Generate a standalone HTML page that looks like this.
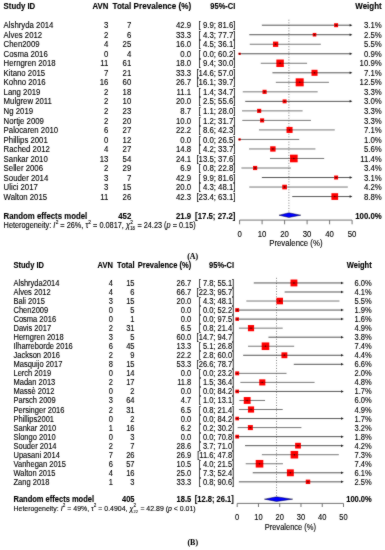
<!DOCTYPE html>
<html><head><meta charset="utf-8"><style>
html,body{margin:0;padding:0;background:#fff;}
svg{display:block;}
text{font-family:"Liberation Sans",Arial,sans-serif;fill:#000;stroke:#000;stroke-width:0.12px;}

</style></head><body>
<svg width="385" height="550" viewBox="0 0 385 550">
<defs><filter id="bl" x="0" y="0" width="100%" height="100%"><feConvolveMatrix order="3" kernelMatrix="1 2 1 2 28 2 1 2 1" edgeMode="none"/></filter></defs>
<rect width="385" height="550" fill="#fff"/>
<g filter="url(#bl)">
<g font-size="8.67">
<text transform="matrix(0.9,0,0,1,3.6,9.4)" font-weight="bold">Study ID</text>
<text transform="matrix(0.9,0,0,1,108.4,9.4)" font-weight="bold" text-anchor="end">AVN</text>
<text transform="matrix(0.936,0,0,1,131.3,9.4)" font-weight="bold" text-anchor="end">Total</text>
<text transform="matrix(0.936,0,0,1,191.2,9.4)" font-weight="bold" text-anchor="end">Prevalence (%)</text>
<text transform="matrix(0.864,0,0,1,235.3,9.4)" font-weight="bold" text-anchor="end">95%-CI</text>
<text transform="matrix(0.918,0,0,1,381.7,9.4)" font-weight="bold" text-anchor="end">Weight</text>
<text transform="matrix(0.9,0,0,1,3.6,28.3)" >Alshryda 2014</text>
<text transform="matrix(0.9,0,0,1,108.4,28.3)" text-anchor="end">3</text>
<text transform="matrix(0.9,0,0,1,131.3,28.3)" text-anchor="end">7</text>
<text transform="matrix(0.9,0,0,1,191.2,28.3)" text-anchor="end">42.9</text>
<text transform="matrix(0.9,0,0,1,235.4,28.3)" text-anchor="end" xml:space="preserve">[ 9.9; 81.6]</text>
<text transform="matrix(0.9,0,0,1,381.7,28.3)" text-anchor="end">3.1%</text>
<text transform="matrix(0.9,0,0,1,3.6,37.82)" >Alves 2012</text>
<text transform="matrix(0.9,0,0,1,108.4,37.82)" text-anchor="end">2</text>
<text transform="matrix(0.9,0,0,1,131.3,37.82)" text-anchor="end">6</text>
<text transform="matrix(0.9,0,0,1,191.2,37.82)" text-anchor="end">33.3</text>
<text transform="matrix(0.9,0,0,1,235.4,37.82)" text-anchor="end" xml:space="preserve">[ 4.3; 77.7]</text>
<text transform="matrix(0.9,0,0,1,381.7,37.82)" text-anchor="end">2.5%</text>
<text transform="matrix(0.9,0,0,1,3.6,47.34)" >Chen2009</text>
<text transform="matrix(0.9,0,0,1,108.4,47.34)" text-anchor="end">4</text>
<text transform="matrix(0.9,0,0,1,131.3,47.34)" text-anchor="end">25</text>
<text transform="matrix(0.9,0,0,1,191.2,47.34)" text-anchor="end">16.0</text>
<text transform="matrix(0.9,0,0,1,235.4,47.34)" text-anchor="end" xml:space="preserve">[ 4.5; 36.1]</text>
<text transform="matrix(0.9,0,0,1,381.7,47.34)" text-anchor="end">5.5%</text>
<text transform="matrix(0.9,0,0,1,3.6,56.86)" >Cosma 2016</text>
<text transform="matrix(0.9,0,0,1,108.4,56.86)" text-anchor="end">0</text>
<text transform="matrix(0.9,0,0,1,131.3,56.86)" text-anchor="end">4</text>
<text transform="matrix(0.9,0,0,1,191.2,56.86)" text-anchor="end">0.0</text>
<text transform="matrix(0.9,0,0,1,235.4,56.86)" text-anchor="end" xml:space="preserve">[ 0.0; 60.2]</text>
<text transform="matrix(0.9,0,0,1,381.7,56.86)" text-anchor="end">0.9%</text>
<text transform="matrix(0.9,0,0,1,3.6,66.38)" >Herngren 2018</text>
<text transform="matrix(0.9,0,0,1,108.4,66.38)" text-anchor="end">11</text>
<text transform="matrix(0.9,0,0,1,131.3,66.38)" text-anchor="end">61</text>
<text transform="matrix(0.9,0,0,1,191.2,66.38)" text-anchor="end">18.0</text>
<text transform="matrix(0.9,0,0,1,235.4,66.38)" text-anchor="end" xml:space="preserve">[ 9.4; 30.0]</text>
<text transform="matrix(0.9,0,0,1,381.7,66.38)" text-anchor="end">10.9%</text>
<text transform="matrix(0.9,0,0,1,3.6,75.9)" >Kitano 2015</text>
<text transform="matrix(0.9,0,0,1,108.4,75.9)" text-anchor="end">7</text>
<text transform="matrix(0.9,0,0,1,131.3,75.9)" text-anchor="end">21</text>
<text transform="matrix(0.9,0,0,1,191.2,75.9)" text-anchor="end">33.3</text>
<text transform="matrix(0.9,0,0,1,235.4,75.9)" text-anchor="end" xml:space="preserve">[14.6; 57.0]</text>
<text transform="matrix(0.9,0,0,1,381.7,75.9)" text-anchor="end">7.1%</text>
<text transform="matrix(0.9,0,0,1,3.6,85.42)" >Kohno 2016</text>
<text transform="matrix(0.9,0,0,1,108.4,85.42)" text-anchor="end">16</text>
<text transform="matrix(0.9,0,0,1,131.3,85.42)" text-anchor="end">60</text>
<text transform="matrix(0.9,0,0,1,191.2,85.42)" text-anchor="end">26.7</text>
<text transform="matrix(0.9,0,0,1,235.4,85.42)" text-anchor="end" xml:space="preserve">[16.1; 39.7]</text>
<text transform="matrix(0.9,0,0,1,381.7,85.42)" text-anchor="end">12.5%</text>
<text transform="matrix(0.9,0,0,1,3.6,94.94)" >Lang 2019</text>
<text transform="matrix(0.9,0,0,1,108.4,94.94)" text-anchor="end">2</text>
<text transform="matrix(0.9,0,0,1,131.3,94.94)" text-anchor="end">18</text>
<text transform="matrix(0.9,0,0,1,191.2,94.94)" text-anchor="end">11.1</text>
<text transform="matrix(0.9,0,0,1,235.4,94.94)" text-anchor="end" xml:space="preserve">[ 1.4; 34.7]</text>
<text transform="matrix(0.9,0,0,1,381.7,94.94)" text-anchor="end">3.3%</text>
<text transform="matrix(0.9,0,0,1,3.6,104.46)" >Mulgrew 2011</text>
<text transform="matrix(0.9,0,0,1,108.4,104.46)" text-anchor="end">2</text>
<text transform="matrix(0.9,0,0,1,131.3,104.46)" text-anchor="end">10</text>
<text transform="matrix(0.9,0,0,1,191.2,104.46)" text-anchor="end">20.0</text>
<text transform="matrix(0.9,0,0,1,235.4,104.46)" text-anchor="end" xml:space="preserve">[ 2.5; 55.6]</text>
<text transform="matrix(0.9,0,0,1,381.7,104.46)" text-anchor="end">3.0%</text>
<text transform="matrix(0.9,0,0,1,3.6,113.98)" >Ng 2019</text>
<text transform="matrix(0.9,0,0,1,108.4,113.98)" text-anchor="end">2</text>
<text transform="matrix(0.9,0,0,1,131.3,113.98)" text-anchor="end">23</text>
<text transform="matrix(0.9,0,0,1,191.2,113.98)" text-anchor="end">8.7</text>
<text transform="matrix(0.9,0,0,1,235.4,113.98)" text-anchor="end" xml:space="preserve">[ 1.1; 28.0]</text>
<text transform="matrix(0.9,0,0,1,381.7,113.98)" text-anchor="end">3.3%</text>
<text transform="matrix(0.9,0,0,1,3.6,123.5)" >Nortje 2009</text>
<text transform="matrix(0.9,0,0,1,108.4,123.5)" text-anchor="end">2</text>
<text transform="matrix(0.9,0,0,1,131.3,123.5)" text-anchor="end">20</text>
<text transform="matrix(0.9,0,0,1,191.2,123.5)" text-anchor="end">10.0</text>
<text transform="matrix(0.9,0,0,1,235.4,123.5)" text-anchor="end" xml:space="preserve">[ 1.2; 31.7]</text>
<text transform="matrix(0.9,0,0,1,381.7,123.5)" text-anchor="end">3.3%</text>
<text transform="matrix(0.9,0,0,1,3.6,133.02)" >Palocaren 2010</text>
<text transform="matrix(0.9,0,0,1,108.4,133.02)" text-anchor="end">6</text>
<text transform="matrix(0.9,0,0,1,131.3,133.02)" text-anchor="end">27</text>
<text transform="matrix(0.9,0,0,1,191.2,133.02)" text-anchor="end">22.2</text>
<text transform="matrix(0.9,0,0,1,235.4,133.02)" text-anchor="end" xml:space="preserve">[ 8.6; 42.3]</text>
<text transform="matrix(0.9,0,0,1,381.7,133.02)" text-anchor="end">7.1%</text>
<text transform="matrix(0.9,0,0,1,3.6,142.54)" >Phillips 2001</text>
<text transform="matrix(0.9,0,0,1,108.4,142.54)" text-anchor="end">0</text>
<text transform="matrix(0.9,0,0,1,131.3,142.54)" text-anchor="end">12</text>
<text transform="matrix(0.9,0,0,1,191.2,142.54)" text-anchor="end">0.0</text>
<text transform="matrix(0.9,0,0,1,235.4,142.54)" text-anchor="end" xml:space="preserve">[ 0.0; 26.5]</text>
<text transform="matrix(0.9,0,0,1,381.7,142.54)" text-anchor="end">1.0%</text>
<text transform="matrix(0.9,0,0,1,3.6,152.06)" >Rached 2012</text>
<text transform="matrix(0.9,0,0,1,108.4,152.06)" text-anchor="end">4</text>
<text transform="matrix(0.9,0,0,1,131.3,152.06)" text-anchor="end">27</text>
<text transform="matrix(0.9,0,0,1,191.2,152.06)" text-anchor="end">14.8</text>
<text transform="matrix(0.9,0,0,1,235.4,152.06)" text-anchor="end" xml:space="preserve">[ 4.2; 33.7]</text>
<text transform="matrix(0.9,0,0,1,381.7,152.06)" text-anchor="end">5.6%</text>
<text transform="matrix(0.9,0,0,1,3.6,161.58)" >Sankar 2010</text>
<text transform="matrix(0.9,0,0,1,108.4,161.58)" text-anchor="end">13</text>
<text transform="matrix(0.9,0,0,1,131.3,161.58)" text-anchor="end">54</text>
<text transform="matrix(0.9,0,0,1,191.2,161.58)" text-anchor="end">24.1</text>
<text transform="matrix(0.9,0,0,1,235.4,161.58)" text-anchor="end" xml:space="preserve">[13.5; 37.6]</text>
<text transform="matrix(0.9,0,0,1,381.7,161.58)" text-anchor="end">11.4%</text>
<text transform="matrix(0.9,0,0,1,3.6,171.1)" >Seller 2006</text>
<text transform="matrix(0.9,0,0,1,108.4,171.1)" text-anchor="end">2</text>
<text transform="matrix(0.9,0,0,1,131.3,171.1)" text-anchor="end">29</text>
<text transform="matrix(0.9,0,0,1,191.2,171.1)" text-anchor="end">6.9</text>
<text transform="matrix(0.9,0,0,1,235.4,171.1)" text-anchor="end" xml:space="preserve">[ 0.8; 22.8]</text>
<text transform="matrix(0.9,0,0,1,381.7,171.1)" text-anchor="end">3.4%</text>
<text transform="matrix(0.9,0,0,1,3.6,180.62)" >Souder 2014</text>
<text transform="matrix(0.9,0,0,1,108.4,180.62)" text-anchor="end">3</text>
<text transform="matrix(0.9,0,0,1,131.3,180.62)" text-anchor="end">7</text>
<text transform="matrix(0.9,0,0,1,191.2,180.62)" text-anchor="end">42.9</text>
<text transform="matrix(0.9,0,0,1,235.4,180.62)" text-anchor="end" xml:space="preserve">[ 9.9; 81.6]</text>
<text transform="matrix(0.9,0,0,1,381.7,180.62)" text-anchor="end">3.1%</text>
<text transform="matrix(0.9,0,0,1,3.6,190.14)" >Ulici 2017</text>
<text transform="matrix(0.9,0,0,1,108.4,190.14)" text-anchor="end">3</text>
<text transform="matrix(0.9,0,0,1,131.3,190.14)" text-anchor="end">15</text>
<text transform="matrix(0.9,0,0,1,191.2,190.14)" text-anchor="end">20.0</text>
<text transform="matrix(0.9,0,0,1,235.4,190.14)" text-anchor="end" xml:space="preserve">[ 4.3; 48.1]</text>
<text transform="matrix(0.9,0,0,1,381.7,190.14)" text-anchor="end">4.2%</text>
<text transform="matrix(0.9,0,0,1,3.6,199.66)" >Walton 2015</text>
<text transform="matrix(0.9,0,0,1,108.4,199.66)" text-anchor="end">11</text>
<text transform="matrix(0.9,0,0,1,131.3,199.66)" text-anchor="end">26</text>
<text transform="matrix(0.9,0,0,1,191.2,199.66)" text-anchor="end">42.3</text>
<text transform="matrix(0.9,0,0,1,235.4,199.66)" text-anchor="end" xml:space="preserve">[23.4; 63.1]</text>
<text transform="matrix(0.9,0,0,1,381.7,199.66)" text-anchor="end">8.8%</text>
<text transform="matrix(0.9,0,0,1,3.6,218.66)" font-weight="bold">Random effects model</text>
<text transform="matrix(0.9,0,0,1,131.3,218.66)" font-weight="bold" text-anchor="end">452</text>
<text transform="matrix(0.9,0,0,1,191.2,218.66)" font-weight="bold" text-anchor="end">21.9</text>
<text transform="matrix(0.9,0,0,1,235.4,218.66)" font-weight="bold" text-anchor="end">[17.5; 27.2]</text>
<text transform="matrix(0.9,0,0,1,381.7,218.66)" font-weight="bold" text-anchor="end">100.0%</text>
<text transform="matrix(0.9,0,0,1,3.6,227.91)" font-size="8.15">Heterogeneity: <tspan font-style="italic">I</tspan><tspan dx="0.3" dy="-3.42" font-size="5.38">2</tspan><tspan dy="3.42"> = 26%, τ</tspan><tspan dy="-3.42" font-size="5.38">2</tspan><tspan dy="3.42"> = 0.0817, </tspan><tspan font-style="italic">χ</tspan><tspan dx="0.4" dy="-3.42" font-size="5.38">2</tspan><tspan dx="-2.99" dy="5.7" font-size="4.56">18</tspan><tspan dx="0.6" dy="-2.28"> = 24.23 (</tspan><tspan font-style="italic">p</tspan><tspan> = 0.15)</tspan></text>
<path d="M278.98 215.16L288.88 212.81L300.8 215.16L288.88 217.51Z" fill="#00f" stroke="#002" stroke-width="0.45"/>
<line x1="288.88" y1="19.73" x2="288.88" y2="212.81" stroke="#666" stroke-width="0.8" stroke-dasharray="1 1.65"/>
<g stroke="#6a6a6a" stroke-width="0.9"><line x1="249.72" y1="44.24" x2="320.82" y2="44.24"/><line x1="260.75" y1="63.28" x2="307.1" y2="63.28"/><line x1="275.82" y1="82.32" x2="328.93" y2="82.32"/><line x1="242.75" y1="91.84" x2="317.68" y2="91.84"/><line x1="242.07" y1="110.88" x2="302.6" y2="110.88"/><line x1="242.3" y1="120.4" x2="310.93" y2="120.4"/><line x1="258.95" y1="129.92" x2="334.77" y2="129.92"/><line x1="239.6" y1="139.44" x2="299.23" y2="139.44"/><line x1="249.05" y1="148.96" x2="315.43" y2="148.96"/><line x1="269.98" y1="158.48" x2="324.2" y2="158.48"/><line x1="241.4" y1="168" x2="290.9" y2="168"/><line x1="249.28" y1="187.04" x2="347.82" y2="187.04"/></g>
<g stroke="#444" stroke-width="0.9"><line x1="261.88" y1="25.2" x2="350.6" y2="25.2"/><line x1="249.28" y1="34.72" x2="350.6" y2="34.72"/><line x1="239.6" y1="53.76" x2="350.6" y2="53.76"/><line x1="272.45" y1="72.8" x2="350.6" y2="72.8"/><line x1="245.22" y1="101.36" x2="350.6" y2="101.36"/><line x1="261.88" y1="177.52" x2="350.6" y2="177.52"/><line x1="292.25" y1="196.56" x2="350.6" y2="196.56"/></g>
<path d="M352.4 25.2L349.6 23.95L349.6 26.45Z" fill="#222"/>
<rect x="334.13" y="23.21" width="3.98" height="3.98" fill="#f00"/>
<line x1="334.13" y1="25.2" x2="338.12" y2="25.2" stroke="#a00" stroke-width="0.8"/>
<circle cx="336.12" cy="25.2" r="0.7" fill="#300"/>
<path d="M352.4 34.72L349.6 33.47L349.6 35.97Z" fill="#222"/>
<rect x="312.74" y="32.93" width="3.58" height="3.58" fill="#f00"/>
<line x1="312.74" y1="34.72" x2="316.31" y2="34.72" stroke="#a00" stroke-width="0.8"/>
<circle cx="314.52" cy="34.72" r="0.7" fill="#300"/>
<rect x="272.95" y="41.59" width="5.31" height="5.31" fill="#f00"/>
<line x1="272.95" y1="44.24" x2="278.25" y2="44.24" stroke="#a00" stroke-width="0.8"/>
<circle cx="275.6" cy="44.24" r="0.7" fill="#300"/>
<path d="M352.4 53.76L349.6 52.51L349.6 55.01Z" fill="#222"/>
<rect x="238.53" y="52.69" width="2.15" height="2.15" fill="#f00"/>
<line x1="238.53" y1="53.76" x2="240.67" y2="53.76" stroke="#a00" stroke-width="0.8"/>
<circle cx="239.6" cy="53.76" r="0.7" fill="#300"/>
<rect x="276.36" y="59.54" width="7.47" height="7.47" fill="#f00"/>
<line x1="276.36" y1="63.28" x2="283.84" y2="63.28" stroke="#a00" stroke-width="0.8"/>
<circle cx="280.1" cy="63.28" r="0.7" fill="#300"/>
<path d="M352.4 72.8L349.6 71.55L349.6 74.05Z" fill="#222"/>
<rect x="311.51" y="69.79" width="6.03" height="6.03" fill="#f00"/>
<line x1="311.51" y1="72.8" x2="317.54" y2="72.8" stroke="#a00" stroke-width="0.8"/>
<circle cx="314.52" cy="72.8" r="0.7" fill="#300"/>
<rect x="295.68" y="78.32" width="8" height="8" fill="#f00"/>
<line x1="295.68" y1="82.32" x2="303.68" y2="82.32" stroke="#a00" stroke-width="0.8"/>
<circle cx="299.68" cy="82.32" r="0.7" fill="#300"/>
<rect x="262.52" y="89.78" width="4.11" height="4.11" fill="#f00"/>
<line x1="262.52" y1="91.84" x2="266.63" y2="91.84" stroke="#a00" stroke-width="0.8"/>
<circle cx="264.57" cy="91.84" r="0.7" fill="#300"/>
<path d="M352.4 101.36L349.6 100.11L349.6 102.61Z" fill="#222"/>
<rect x="282.64" y="99.4" width="3.92" height="3.92" fill="#f00"/>
<line x1="282.64" y1="101.36" x2="286.56" y2="101.36" stroke="#a00" stroke-width="0.8"/>
<circle cx="284.6" cy="101.36" r="0.7" fill="#300"/>
<rect x="257.12" y="108.82" width="4.11" height="4.11" fill="#f00"/>
<line x1="257.12" y1="110.88" x2="261.23" y2="110.88" stroke="#a00" stroke-width="0.8"/>
<circle cx="259.18" cy="110.88" r="0.7" fill="#300"/>
<rect x="260.04" y="118.34" width="4.11" height="4.11" fill="#f00"/>
<line x1="260.04" y1="120.4" x2="264.16" y2="120.4" stroke="#a00" stroke-width="0.8"/>
<circle cx="262.1" cy="120.4" r="0.7" fill="#300"/>
<rect x="286.54" y="126.91" width="6.03" height="6.03" fill="#f00"/>
<line x1="286.54" y1="129.92" x2="292.56" y2="129.92" stroke="#a00" stroke-width="0.8"/>
<circle cx="289.55" cy="129.92" r="0.7" fill="#300"/>
<rect x="238.47" y="138.31" width="2.26" height="2.26" fill="#f00"/>
<line x1="238.47" y1="139.44" x2="240.73" y2="139.44" stroke="#a00" stroke-width="0.8"/>
<circle cx="239.6" cy="139.44" r="0.7" fill="#300"/>
<rect x="270.22" y="146.28" width="5.35" height="5.35" fill="#f00"/>
<line x1="270.22" y1="148.96" x2="275.58" y2="148.96" stroke="#a00" stroke-width="0.8"/>
<circle cx="272.9" cy="148.96" r="0.7" fill="#300"/>
<rect x="290.01" y="154.66" width="7.64" height="7.64" fill="#f00"/>
<line x1="290.01" y1="158.48" x2="297.64" y2="158.48" stroke="#a00" stroke-width="0.8"/>
<circle cx="293.82" cy="158.48" r="0.7" fill="#300"/>
<rect x="253.04" y="165.91" width="4.17" height="4.17" fill="#f00"/>
<line x1="253.04" y1="168" x2="257.21" y2="168" stroke="#a00" stroke-width="0.8"/>
<circle cx="255.12" cy="168" r="0.7" fill="#300"/>
<path d="M352.4 177.52L349.6 176.27L349.6 178.77Z" fill="#222"/>
<rect x="334.13" y="175.53" width="3.98" height="3.98" fill="#f00"/>
<line x1="334.13" y1="177.52" x2="338.12" y2="177.52" stroke="#a00" stroke-width="0.8"/>
<circle cx="336.12" cy="177.52" r="0.7" fill="#300"/>
<rect x="282.28" y="184.72" width="4.64" height="4.64" fill="#f00"/>
<line x1="282.28" y1="187.04" x2="286.92" y2="187.04" stroke="#a00" stroke-width="0.8"/>
<circle cx="284.6" cy="187.04" r="0.7" fill="#300"/>
<path d="M352.4 196.56L349.6 195.31L349.6 197.81Z" fill="#222"/>
<rect x="331.42" y="193.2" width="6.71" height="6.71" fill="#f00"/>
<line x1="331.42" y1="196.56" x2="338.13" y2="196.56" stroke="#a00" stroke-width="0.8"/>
<circle cx="334.77" cy="196.56" r="0.7" fill="#300"/>
<g stroke="#666" stroke-width="0.9"><line x1="239.6" y1="220.1" x2="352.1" y2="220.1"/><line x1="239.6" y1="220.1" x2="239.6" y2="224.3"/><line x1="262.1" y1="220.1" x2="262.1" y2="224.3"/><line x1="284.6" y1="220.1" x2="284.6" y2="224.3"/><line x1="307.1" y1="220.1" x2="307.1" y2="224.3"/><line x1="329.6" y1="220.1" x2="329.6" y2="224.3"/><line x1="352.1" y1="220.1" x2="352.1" y2="224.3"/></g>
<text transform="matrix(0.9,0,0,1,239.6,237.4)" text-anchor="middle">0</text>
<text transform="matrix(0.9,0,0,1,262.1,237.4)" text-anchor="middle">10</text>
<text transform="matrix(0.9,0,0,1,284.6,237.4)" text-anchor="middle">20</text>
<text transform="matrix(0.9,0,0,1,307.1,237.4)" text-anchor="middle">30</text>
<text transform="matrix(0.9,0,0,1,329.6,237.4)" text-anchor="middle">40</text>
<text transform="matrix(0.9,0,0,1,352.1,237.4)" text-anchor="middle">50</text>
<text transform="matrix(0.9,0,0,1,295.85,246.1)" text-anchor="middle">Prevalence (%)</text>
<text transform="matrix(1.0,0,0,1,192.7,258.8)" text-anchor="middle" style="font-family:'Liberation Serif',serif;stroke-width:0.08px" font-weight="bold" font-size="7.9">(A)</text>
</g>
<g font-size="8.36">
<text transform="matrix(0.9,0,0,1,13.5,267.8)" font-weight="bold">Study ID</text>
<text transform="matrix(0.9,0,0,1,112.9,267.8)" font-weight="bold" text-anchor="end">AVN</text>
<text transform="matrix(0.9,0,0,1,134.5,267.8)" font-weight="bold" text-anchor="end">Total</text>
<text transform="matrix(0.9,0,0,1,191.2,267.8)" font-weight="bold" text-anchor="end">Prevalence (%)</text>
<text transform="matrix(0.9,0,0,1,234.1,267.8)" font-weight="bold" text-anchor="end">95%-CI</text>
<text transform="matrix(0.9,0,0,1,371.7,267.8)" font-weight="bold" text-anchor="end">Weight</text>
<text transform="matrix(0.9,0,0,1,13.5,285.95)" >Alshryda2014</text>
<text transform="matrix(0.9,0,0,1,112.9,285.95)" text-anchor="end">4</text>
<text transform="matrix(0.9,0,0,1,134.5,285.95)" text-anchor="end">15</text>
<text transform="matrix(0.9,0,0,1,191.2,285.95)" text-anchor="end">26.7</text>
<text transform="matrix(0.9,0,0,1,234.2,285.95)" text-anchor="end" xml:space="preserve">[ 7.8; 55.1]</text>
<text transform="matrix(0.9,0,0,1,371.7,285.95)" text-anchor="end">6.0%</text>
<text transform="matrix(0.9,0,0,1,13.5,294.99)" >Alves 2012</text>
<text transform="matrix(0.9,0,0,1,112.9,294.99)" text-anchor="end">4</text>
<text transform="matrix(0.9,0,0,1,134.5,294.99)" text-anchor="end">6</text>
<text transform="matrix(0.9,0,0,1,191.2,294.99)" text-anchor="end">66.7</text>
<text transform="matrix(0.9,0,0,1,234.2,294.99)" text-anchor="end" xml:space="preserve">[22.3; 95.7]</text>
<text transform="matrix(0.9,0,0,1,371.7,294.99)" text-anchor="end">4.1%</text>
<text transform="matrix(0.9,0,0,1,13.5,304.03)" >Bali 2015</text>
<text transform="matrix(0.9,0,0,1,112.9,304.03)" text-anchor="end">3</text>
<text transform="matrix(0.9,0,0,1,134.5,304.03)" text-anchor="end">15</text>
<text transform="matrix(0.9,0,0,1,191.2,304.03)" text-anchor="end">20.0</text>
<text transform="matrix(0.9,0,0,1,234.2,304.03)" text-anchor="end" xml:space="preserve">[ 4.3; 48.1]</text>
<text transform="matrix(0.9,0,0,1,371.7,304.03)" text-anchor="end">5.5%</text>
<text transform="matrix(0.9,0,0,1,13.5,313.07)" >Chen2009</text>
<text transform="matrix(0.9,0,0,1,112.9,313.07)" text-anchor="end">0</text>
<text transform="matrix(0.9,0,0,1,134.5,313.07)" text-anchor="end">5</text>
<text transform="matrix(0.9,0,0,1,191.2,313.07)" text-anchor="end">0.0</text>
<text transform="matrix(0.9,0,0,1,234.2,313.07)" text-anchor="end" xml:space="preserve">[ 0.0; 52.2]</text>
<text transform="matrix(0.9,0,0,1,371.7,313.07)" text-anchor="end">1.9%</text>
<text transform="matrix(0.9,0,0,1,13.5,322.11)" >Cosma 2016</text>
<text transform="matrix(0.9,0,0,1,112.9,322.11)" text-anchor="end">0</text>
<text transform="matrix(0.9,0,0,1,134.5,322.11)" text-anchor="end">1</text>
<text transform="matrix(0.9,0,0,1,191.2,322.11)" text-anchor="end">0.0</text>
<text transform="matrix(0.9,0,0,1,234.2,322.11)" text-anchor="end" xml:space="preserve">[ 0.0; 97.5]</text>
<text transform="matrix(0.9,0,0,1,371.7,322.11)" text-anchor="end">1.6%</text>
<text transform="matrix(0.9,0,0,1,13.5,331.15)" >Davis 2017</text>
<text transform="matrix(0.9,0,0,1,112.9,331.15)" text-anchor="end">2</text>
<text transform="matrix(0.9,0,0,1,134.5,331.15)" text-anchor="end">31</text>
<text transform="matrix(0.9,0,0,1,191.2,331.15)" text-anchor="end">6.5</text>
<text transform="matrix(0.9,0,0,1,234.2,331.15)" text-anchor="end" xml:space="preserve">[ 0.8; 21.4]</text>
<text transform="matrix(0.9,0,0,1,371.7,331.15)" text-anchor="end">4.9%</text>
<text transform="matrix(0.9,0,0,1,13.5,340.19)" >Herngren 2018</text>
<text transform="matrix(0.9,0,0,1,112.9,340.19)" text-anchor="end">3</text>
<text transform="matrix(0.9,0,0,1,134.5,340.19)" text-anchor="end">5</text>
<text transform="matrix(0.9,0,0,1,191.2,340.19)" text-anchor="end">60.0</text>
<text transform="matrix(0.9,0,0,1,234.2,340.19)" text-anchor="end" xml:space="preserve">[14.7; 94.7]</text>
<text transform="matrix(0.9,0,0,1,371.7,340.19)" text-anchor="end">3.8%</text>
<text transform="matrix(0.9,0,0,1,13.5,349.23)" >Ilharreborde 2016</text>
<text transform="matrix(0.9,0,0,1,112.9,349.23)" text-anchor="end">6</text>
<text transform="matrix(0.9,0,0,1,134.5,349.23)" text-anchor="end">45</text>
<text transform="matrix(0.9,0,0,1,191.2,349.23)" text-anchor="end">13.3</text>
<text transform="matrix(0.9,0,0,1,234.2,349.23)" text-anchor="end" xml:space="preserve">[ 5.1; 26.8]</text>
<text transform="matrix(0.9,0,0,1,371.7,349.23)" text-anchor="end">7.4%</text>
<text transform="matrix(0.9,0,0,1,13.5,358.27)" >Jackson 2016</text>
<text transform="matrix(0.9,0,0,1,112.9,358.27)" text-anchor="end">2</text>
<text transform="matrix(0.9,0,0,1,134.5,358.27)" text-anchor="end">9</text>
<text transform="matrix(0.9,0,0,1,191.2,358.27)" text-anchor="end">22.2</text>
<text transform="matrix(0.9,0,0,1,234.2,358.27)" text-anchor="end" xml:space="preserve">[ 2.8; 60.0]</text>
<text transform="matrix(0.9,0,0,1,371.7,358.27)" text-anchor="end">4.4%</text>
<text transform="matrix(0.9,0,0,1,13.5,367.31)" >Masquijo 2017</text>
<text transform="matrix(0.9,0,0,1,112.9,367.31)" text-anchor="end">8</text>
<text transform="matrix(0.9,0,0,1,134.5,367.31)" text-anchor="end">15</text>
<text transform="matrix(0.9,0,0,1,191.2,367.31)" text-anchor="end">53.3</text>
<text transform="matrix(0.9,0,0,1,234.2,367.31)" text-anchor="end" xml:space="preserve">[26.6; 78.7]</text>
<text transform="matrix(0.9,0,0,1,371.7,367.31)" text-anchor="end">6.6%</text>
<text transform="matrix(0.9,0,0,1,13.5,376.35)" >Lerch 2019</text>
<text transform="matrix(0.9,0,0,1,112.9,376.35)" text-anchor="end">0</text>
<text transform="matrix(0.9,0,0,1,134.5,376.35)" text-anchor="end">14</text>
<text transform="matrix(0.9,0,0,1,191.2,376.35)" text-anchor="end">0.0</text>
<text transform="matrix(0.9,0,0,1,234.2,376.35)" text-anchor="end" xml:space="preserve">[ 0.0; 23.2]</text>
<text transform="matrix(0.9,0,0,1,371.7,376.35)" text-anchor="end">2.0%</text>
<text transform="matrix(0.9,0,0,1,13.5,385.39)" >Madan 2013</text>
<text transform="matrix(0.9,0,0,1,112.9,385.39)" text-anchor="end">2</text>
<text transform="matrix(0.9,0,0,1,134.5,385.39)" text-anchor="end">17</text>
<text transform="matrix(0.9,0,0,1,191.2,385.39)" text-anchor="end">11.8</text>
<text transform="matrix(0.9,0,0,1,234.2,385.39)" text-anchor="end" xml:space="preserve">[ 1.5; 36.4]</text>
<text transform="matrix(0.9,0,0,1,371.7,385.39)" text-anchor="end">4.8%</text>
<text transform="matrix(0.9,0,0,1,13.5,394.43)" >Massè 2012</text>
<text transform="matrix(0.9,0,0,1,112.9,394.43)" text-anchor="end">0</text>
<text transform="matrix(0.9,0,0,1,134.5,394.43)" text-anchor="end">2</text>
<text transform="matrix(0.9,0,0,1,191.2,394.43)" text-anchor="end">0.0</text>
<text transform="matrix(0.9,0,0,1,234.2,394.43)" text-anchor="end" xml:space="preserve">[ 0.0; 84.2]</text>
<text transform="matrix(0.9,0,0,1,371.7,394.43)" text-anchor="end">1.7%</text>
<text transform="matrix(0.9,0,0,1,13.5,403.47)" >Parsch 2009</text>
<text transform="matrix(0.9,0,0,1,112.9,403.47)" text-anchor="end">3</text>
<text transform="matrix(0.9,0,0,1,134.5,403.47)" text-anchor="end">64</text>
<text transform="matrix(0.9,0,0,1,191.2,403.47)" text-anchor="end">4.7</text>
<text transform="matrix(0.9,0,0,1,234.2,403.47)" text-anchor="end" xml:space="preserve">[ 1.0; 13.1]</text>
<text transform="matrix(0.9,0,0,1,371.7,403.47)" text-anchor="end">6.0%</text>
<text transform="matrix(0.9,0,0,1,13.5,412.51)" >Persinger 2016</text>
<text transform="matrix(0.9,0,0,1,112.9,412.51)" text-anchor="end">2</text>
<text transform="matrix(0.9,0,0,1,134.5,412.51)" text-anchor="end">31</text>
<text transform="matrix(0.9,0,0,1,191.2,412.51)" text-anchor="end">6.5</text>
<text transform="matrix(0.9,0,0,1,234.2,412.51)" text-anchor="end" xml:space="preserve">[ 0.8; 21.4]</text>
<text transform="matrix(0.9,0,0,1,371.7,412.51)" text-anchor="end">4.9%</text>
<text transform="matrix(0.9,0,0,1,13.5,421.55)" >Phillips2001</text>
<text transform="matrix(0.9,0,0,1,112.9,421.55)" text-anchor="end">0</text>
<text transform="matrix(0.9,0,0,1,134.5,421.55)" text-anchor="end">2</text>
<text transform="matrix(0.9,0,0,1,191.2,421.55)" text-anchor="end">0.0</text>
<text transform="matrix(0.9,0,0,1,234.2,421.55)" text-anchor="end" xml:space="preserve">[ 0.0; 84.2]</text>
<text transform="matrix(0.9,0,0,1,371.7,421.55)" text-anchor="end">1.7%</text>
<text transform="matrix(0.9,0,0,1,13.5,430.59)" >Sankar 2010</text>
<text transform="matrix(0.9,0,0,1,112.9,430.59)" text-anchor="end">1</text>
<text transform="matrix(0.9,0,0,1,134.5,430.59)" text-anchor="end">16</text>
<text transform="matrix(0.9,0,0,1,191.2,430.59)" text-anchor="end">6.2</text>
<text transform="matrix(0.9,0,0,1,234.2,430.59)" text-anchor="end" xml:space="preserve">[ 0.2; 30.2]</text>
<text transform="matrix(0.9,0,0,1,371.7,430.59)" text-anchor="end">3.2%</text>
<text transform="matrix(0.9,0,0,1,13.5,439.63)" >Slongo 2010</text>
<text transform="matrix(0.9,0,0,1,112.9,439.63)" text-anchor="end">0</text>
<text transform="matrix(0.9,0,0,1,134.5,439.63)" text-anchor="end">3</text>
<text transform="matrix(0.9,0,0,1,191.2,439.63)" text-anchor="end">0.0</text>
<text transform="matrix(0.9,0,0,1,234.2,439.63)" text-anchor="end" xml:space="preserve">[ 0.0; 70.8]</text>
<text transform="matrix(0.9,0,0,1,371.7,439.63)" text-anchor="end">1.8%</text>
<text transform="matrix(0.9,0,0,1,13.5,448.67)" >Souder 2014</text>
<text transform="matrix(0.9,0,0,1,112.9,448.67)" text-anchor="end">2</text>
<text transform="matrix(0.9,0,0,1,134.5,448.67)" text-anchor="end">7</text>
<text transform="matrix(0.9,0,0,1,191.2,448.67)" text-anchor="end">28.6</text>
<text transform="matrix(0.9,0,0,1,234.2,448.67)" text-anchor="end" xml:space="preserve">[ 3.7; 71.0]</text>
<text transform="matrix(0.9,0,0,1,371.7,448.67)" text-anchor="end">4.2%</text>
<text transform="matrix(0.9,0,0,1,13.5,457.71)" >Upasani 2014</text>
<text transform="matrix(0.9,0,0,1,112.9,457.71)" text-anchor="end">7</text>
<text transform="matrix(0.9,0,0,1,134.5,457.71)" text-anchor="end">26</text>
<text transform="matrix(0.9,0,0,1,191.2,457.71)" text-anchor="end">26.9</text>
<text transform="matrix(0.9,0,0,1,234.2,457.71)" text-anchor="end" xml:space="preserve">[11.6; 47.8]</text>
<text transform="matrix(0.9,0,0,1,371.7,457.71)" text-anchor="end">7.3%</text>
<text transform="matrix(0.9,0,0,1,13.5,466.75)" >Vanhegan 2015</text>
<text transform="matrix(0.9,0,0,1,112.9,466.75)" text-anchor="end">6</text>
<text transform="matrix(0.9,0,0,1,134.5,466.75)" text-anchor="end">57</text>
<text transform="matrix(0.9,0,0,1,191.2,466.75)" text-anchor="end">10.5</text>
<text transform="matrix(0.9,0,0,1,234.2,466.75)" text-anchor="end" xml:space="preserve">[ 4.0; 21.5]</text>
<text transform="matrix(0.9,0,0,1,371.7,466.75)" text-anchor="end">7.4%</text>
<text transform="matrix(0.9,0,0,1,13.5,475.79)" >Walton 2015</text>
<text transform="matrix(0.9,0,0,1,112.9,475.79)" text-anchor="end">4</text>
<text transform="matrix(0.9,0,0,1,134.5,475.79)" text-anchor="end">16</text>
<text transform="matrix(0.9,0,0,1,191.2,475.79)" text-anchor="end">25.0</text>
<text transform="matrix(0.9,0,0,1,234.2,475.79)" text-anchor="end" xml:space="preserve">[ 7.3; 52.4]</text>
<text transform="matrix(0.9,0,0,1,371.7,475.79)" text-anchor="end">6.1%</text>
<text transform="matrix(0.9,0,0,1,13.5,484.83)" >Zang 2018</text>
<text transform="matrix(0.9,0,0,1,112.9,484.83)" text-anchor="end">1</text>
<text transform="matrix(0.9,0,0,1,134.5,484.83)" text-anchor="end">3</text>
<text transform="matrix(0.9,0,0,1,191.2,484.83)" text-anchor="end">33.3</text>
<text transform="matrix(0.9,0,0,1,234.2,484.83)" text-anchor="end" xml:space="preserve">[ 0.8; 90.6]</text>
<text transform="matrix(0.9,0,0,1,371.7,484.83)" text-anchor="end">2.5%</text>
<text transform="matrix(0.9,0,0,1,13.5,502.43)" font-weight="bold">Random effects model</text>
<text transform="matrix(0.9,0,0,1,134.5,502.43)" font-weight="bold" text-anchor="end">405</text>
<text transform="matrix(0.9,0,0,1,191.2,502.43)" font-weight="bold" text-anchor="end">18.5</text>
<text transform="matrix(0.9,0,0,1,233.7,502.43)" font-weight="bold" text-anchor="end">[12.8; 26.1]</text>
<text transform="matrix(0.9,0,0,1,371.7,502.43)" font-weight="bold" text-anchor="end">100.0%</text>
<text transform="matrix(0.9,0,0,1,13.5,510.73)" font-size="7.73">Heterogeneity: <tspan font-style="italic">I</tspan><tspan dx="0.3" dy="-3.25" font-size="5.1">2</tspan><tspan dy="3.25"> = 49%, τ</tspan><tspan dy="-3.25" font-size="5.1">2</tspan><tspan dy="3.25"> = 0.4904, </tspan><tspan font-style="italic">χ</tspan><tspan dx="0.4" dy="-3.25" font-size="5.1">2</tspan><tspan dx="-2.84" dy="5.41" font-size="4.33">22</tspan><tspan dx="0.6" dy="-2.16"> = 42.89 (</tspan><tspan font-style="italic">p</tspan><tspan> &lt; 0.01)</tspan></text>
<path d="M264.41 499.13L276.53 496.78L292.69 499.13L276.53 501.48Z" fill="#00f" stroke="#002" stroke-width="0.45"/>
<line x1="276.53" y1="277.81" x2="276.53" y2="496.78" stroke="#666" stroke-width="0.8" stroke-dasharray="1 1.65"/>
<g stroke="#6a6a6a" stroke-width="0.9"><line x1="246.34" y1="301.03" x2="339.46" y2="301.03"/><line x1="238.9" y1="328.15" x2="282.7" y2="328.15"/><line x1="248.04" y1="346.23" x2="294.18" y2="346.23"/><line x1="237.2" y1="373.35" x2="286.52" y2="373.35"/><line x1="240.39" y1="382.39" x2="314.59" y2="382.39"/><line x1="239.33" y1="400.47" x2="265.05" y2="400.47"/><line x1="238.9" y1="409.51" x2="282.7" y2="409.51"/><line x1="237.63" y1="427.59" x2="301.41" y2="427.59"/><line x1="261.86" y1="454.71" x2="338.82" y2="454.71"/><line x1="245.7" y1="463.75" x2="282.91" y2="463.75"/></g>
<g stroke="#444" stroke-width="0.9"><line x1="253.78" y1="282.95" x2="342" y2="282.95"/><line x1="284.61" y1="291.99" x2="342" y2="291.99"/><line x1="237.2" y1="310.07" x2="342" y2="310.07"/><line x1="237.2" y1="319.11" x2="342" y2="319.11"/><line x1="268.45" y1="337.19" x2="342" y2="337.19"/><line x1="243.15" y1="355.27" x2="342" y2="355.27"/><line x1="293.75" y1="364.31" x2="342" y2="364.31"/><line x1="237.2" y1="391.43" x2="342" y2="391.43"/><line x1="237.2" y1="418.55" x2="342" y2="418.55"/><line x1="237.2" y1="436.63" x2="342" y2="436.63"/><line x1="245.07" y1="445.67" x2="342" y2="445.67"/><line x1="252.72" y1="472.79" x2="342" y2="472.79"/><line x1="238.9" y1="481.83" x2="342" y2="481.83"/></g>
<path d="M343.8 282.95L341 281.7L341 284.2Z" fill="#222"/>
<rect x="290.54" y="279.53" width="6.84" height="6.84" fill="#f00"/>
<line x1="290.54" y1="282.95" x2="297.39" y2="282.95" stroke="#a00" stroke-width="0.8"/>
<circle cx="293.96" cy="282.95" r="0.7" fill="#300"/>
<path d="M343.8 291.99L341 290.74L341 293.24Z" fill="#222"/>
<rect x="276.44" y="297.75" width="6.55" height="6.55" fill="#f00"/>
<line x1="276.44" y1="301.03" x2="283" y2="301.03" stroke="#a00" stroke-width="0.8"/>
<circle cx="279.72" cy="301.03" r="0.7" fill="#300"/>
<path d="M343.8 310.07L341 308.82L341 311.32Z" fill="#222"/>
<rect x="235.27" y="308.14" width="3.85" height="3.85" fill="#f00"/>
<line x1="235.27" y1="310.07" x2="239.13" y2="310.07" stroke="#a00" stroke-width="0.8"/>
<circle cx="237.2" cy="310.07" r="0.7" fill="#300"/>
<path d="M343.8 319.11L341 317.86L341 320.36Z" fill="#222"/>
<rect x="235.43" y="317.34" width="3.53" height="3.53" fill="#f00"/>
<line x1="235.43" y1="319.11" x2="238.97" y2="319.11" stroke="#a00" stroke-width="0.8"/>
<circle cx="237.2" cy="319.11" r="0.7" fill="#300"/>
<rect x="247.93" y="325.06" width="6.18" height="6.18" fill="#f00"/>
<line x1="247.93" y1="328.15" x2="254.11" y2="328.15" stroke="#a00" stroke-width="0.8"/>
<circle cx="251.02" cy="328.15" r="0.7" fill="#300"/>
<path d="M343.8 337.19L341 335.94L341 338.44Z" fill="#222"/>
<rect x="261.68" y="342.43" width="7.6" height="7.6" fill="#f00"/>
<line x1="261.68" y1="346.23" x2="269.28" y2="346.23" stroke="#a00" stroke-width="0.8"/>
<circle cx="265.48" cy="346.23" r="0.7" fill="#300"/>
<path d="M343.8 355.27L341 354.02L341 356.52Z" fill="#222"/>
<rect x="281.47" y="352.34" width="5.86" height="5.86" fill="#f00"/>
<line x1="281.47" y1="355.27" x2="287.33" y2="355.27" stroke="#a00" stroke-width="0.8"/>
<circle cx="284.4" cy="355.27" r="0.7" fill="#300"/>
<path d="M343.8 364.31L341 363.06L341 365.56Z" fill="#222"/>
<rect x="235.22" y="371.37" width="3.95" height="3.95" fill="#f00"/>
<line x1="235.22" y1="373.35" x2="239.18" y2="373.35" stroke="#a00" stroke-width="0.8"/>
<circle cx="237.2" cy="373.35" r="0.7" fill="#300"/>
<rect x="259.23" y="379.33" width="6.12" height="6.12" fill="#f00"/>
<line x1="259.23" y1="382.39" x2="265.35" y2="382.39" stroke="#a00" stroke-width="0.8"/>
<circle cx="262.29" cy="382.39" r="0.7" fill="#300"/>
<path d="M343.8 391.43L341 390.18L341 392.68Z" fill="#222"/>
<rect x="235.38" y="389.61" width="3.64" height="3.64" fill="#f00"/>
<line x1="235.38" y1="391.43" x2="239.02" y2="391.43" stroke="#a00" stroke-width="0.8"/>
<circle cx="237.2" cy="391.43" r="0.7" fill="#300"/>
<rect x="243.77" y="397.05" width="6.84" height="6.84" fill="#f00"/>
<line x1="243.77" y1="400.47" x2="250.61" y2="400.47" stroke="#a00" stroke-width="0.8"/>
<circle cx="247.19" cy="400.47" r="0.7" fill="#300"/>
<rect x="247.93" y="406.42" width="6.18" height="6.18" fill="#f00"/>
<line x1="247.93" y1="409.51" x2="254.11" y2="409.51" stroke="#a00" stroke-width="0.8"/>
<circle cx="251.02" cy="409.51" r="0.7" fill="#300"/>
<path d="M343.8 418.55L341 417.3L341 419.8Z" fill="#222"/>
<rect x="235.38" y="416.73" width="3.64" height="3.64" fill="#f00"/>
<line x1="235.38" y1="418.55" x2="239.02" y2="418.55" stroke="#a00" stroke-width="0.8"/>
<circle cx="237.2" cy="418.55" r="0.7" fill="#300"/>
<rect x="247.88" y="425.09" width="5" height="5" fill="#f00"/>
<line x1="247.88" y1="427.59" x2="252.88" y2="427.59" stroke="#a00" stroke-width="0.8"/>
<circle cx="250.38" cy="427.59" r="0.7" fill="#300"/>
<path d="M343.8 436.63L341 435.38L341 437.88Z" fill="#222"/>
<rect x="235.33" y="434.76" width="3.75" height="3.75" fill="#f00"/>
<line x1="235.33" y1="436.63" x2="239.07" y2="436.63" stroke="#a00" stroke-width="0.8"/>
<circle cx="237.2" cy="436.63" r="0.7" fill="#300"/>
<path d="M343.8 445.67L341 444.42L341 446.92Z" fill="#222"/>
<rect x="295.14" y="442.81" width="5.73" height="5.73" fill="#f00"/>
<line x1="295.14" y1="445.67" x2="300.87" y2="445.67" stroke="#a00" stroke-width="0.8"/>
<circle cx="298" cy="445.67" r="0.7" fill="#300"/>
<rect x="290.62" y="450.94" width="7.55" height="7.55" fill="#f00"/>
<line x1="290.62" y1="454.71" x2="298.16" y2="454.71" stroke="#a00" stroke-width="0.8"/>
<circle cx="294.39" cy="454.71" r="0.7" fill="#300"/>
<rect x="255.72" y="459.95" width="7.6" height="7.6" fill="#f00"/>
<line x1="255.72" y1="463.75" x2="263.32" y2="463.75" stroke="#a00" stroke-width="0.8"/>
<circle cx="259.52" cy="463.75" r="0.7" fill="#300"/>
<path d="M343.8 472.79L341 471.54L341 474.04Z" fill="#222"/>
<rect x="286.9" y="469.34" width="6.9" height="6.9" fill="#f00"/>
<line x1="286.9" y1="472.79" x2="293.8" y2="472.79" stroke="#a00" stroke-width="0.8"/>
<circle cx="290.35" cy="472.79" r="0.7" fill="#300"/>
<path d="M343.8 481.83L341 480.58L341 483.08Z" fill="#222"/>
<rect x="305.79" y="479.62" width="4.42" height="4.42" fill="#f00"/>
<line x1="305.79" y1="481.83" x2="310.2" y2="481.83" stroke="#a00" stroke-width="0.8"/>
<circle cx="308" cy="481.83" r="0.7" fill="#300"/>
<g stroke="#666" stroke-width="0.9"><line x1="237.2" y1="503.4" x2="343.5" y2="503.4"/><line x1="237.2" y1="503.4" x2="237.2" y2="507"/><line x1="258.46" y1="503.4" x2="258.46" y2="507"/><line x1="279.72" y1="503.4" x2="279.72" y2="507"/><line x1="300.98" y1="503.4" x2="300.98" y2="507"/><line x1="322.24" y1="503.4" x2="322.24" y2="507"/><line x1="343.5" y1="503.4" x2="343.5" y2="507"/></g>
<text transform="matrix(0.9,0,0,1,237.2,520.2)" text-anchor="middle">0</text>
<text transform="matrix(0.9,0,0,1,258.46,520.2)" text-anchor="middle">10</text>
<text transform="matrix(0.9,0,0,1,279.72,520.2)" text-anchor="middle">20</text>
<text transform="matrix(0.9,0,0,1,300.98,520.2)" text-anchor="middle">30</text>
<text transform="matrix(0.9,0,0,1,322.24,520.2)" text-anchor="middle">40</text>
<text transform="matrix(0.9,0,0,1,343.5,520.2)" text-anchor="middle">50</text>
<text transform="matrix(0.9,0,0,1,290.35,529.6)" text-anchor="middle">Prevalence (%)</text>
<text transform="matrix(1.0,0,0,1,192.75,545.1)" text-anchor="middle" style="font-family:'Liberation Serif',serif;stroke-width:0.08px" font-weight="bold" font-size="7.9">(B)</text>
</g>
</g>
</svg>
</body></html>
